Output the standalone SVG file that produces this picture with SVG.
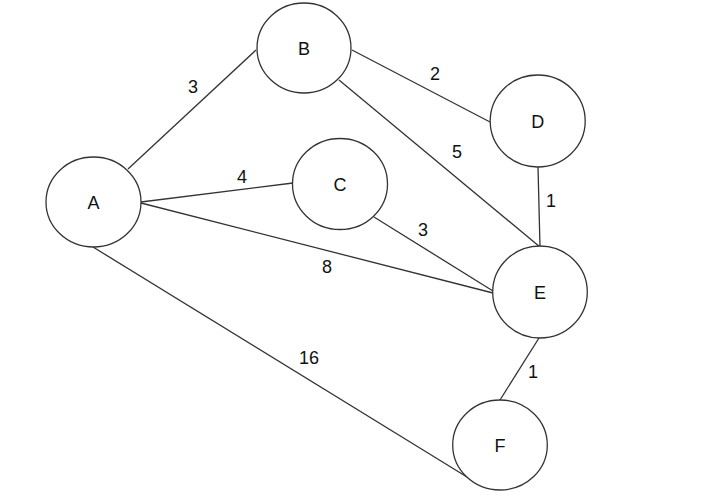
<svg xmlns="http://www.w3.org/2000/svg" width="724" height="501" viewBox="0 0 724 501">
<style>
.node ellipse{fill:#fff;stroke:#333;stroke-width:1.3}
.node text{font-family:"Liberation Sans",Arial,sans-serif;font-size:18px;fill:#111;text-anchor:middle;dominant-baseline:central}
.edges line{stroke:#333;stroke-width:1.3}
.lbl{font-family:"Liberation Sans",Arial,sans-serif;font-size:18px;fill:#111;text-anchor:middle;dominant-baseline:central}
</style>
<rect width="724" height="501" fill="#fff"/>
<g id="connectors" class="edges">
<line x1="128" y1="169" x2="256" y2="50"/>
<line x1="141" y1="202" x2="293" y2="183"/>
<line x1="141" y1="203" x2="493" y2="293"/>
<line x1="93" y1="247" x2="467" y2="477"/>
<line x1="352" y1="50" x2="490" y2="122"/>
<line x1="339" y1="80" x2="540" y2="247"/>
<line x1="374" y1="217" x2="493" y2="291"/>
<line x1="538" y1="167" x2="540" y2="247"/>
<line x1="539" y1="338" x2="500" y2="400"/>
</g>
<g id="labels">
<text class="lbl" x="193" y="87">3</text>
<text class="lbl" x="242" y="177">4</text>
<text class="lbl" x="435" y="74">2</text>
<text class="lbl" x="457" y="152">5</text>
<text class="lbl" x="423" y="230">3</text>
<text class="lbl" x="327" y="267">8</text>
<text class="lbl" x="551" y="201">1</text>
<text class="lbl" x="309" y="358">16</text>
<text class="lbl" x="533" y="372">1</text>
</g>
<g id="A" class="node"><ellipse cx="93.5" cy="202" rx="47.5" ry="45"/><text x="93.5" y="203">A</text></g>
<g id="B" class="node"><ellipse cx="304" cy="48" rx="47" ry="45"/><text x="304" y="49">B</text></g>
<g id="C" class="node"><ellipse cx="340" cy="184" rx="47.5" ry="45.5"/><text x="340" y="185">C</text></g>
<g id="D" class="node"><ellipse cx="537.7" cy="121" rx="47.5" ry="46"/><text x="537.7" y="122">D</text></g>
<g id="E" class="node"><ellipse cx="540" cy="292" rx="47.3" ry="46"/><text x="540" y="293">E</text></g>
<g id="F" class="node"><ellipse cx="500" cy="445" rx="47.3" ry="45"/><text x="500" y="446">F</text></g>
</svg>
